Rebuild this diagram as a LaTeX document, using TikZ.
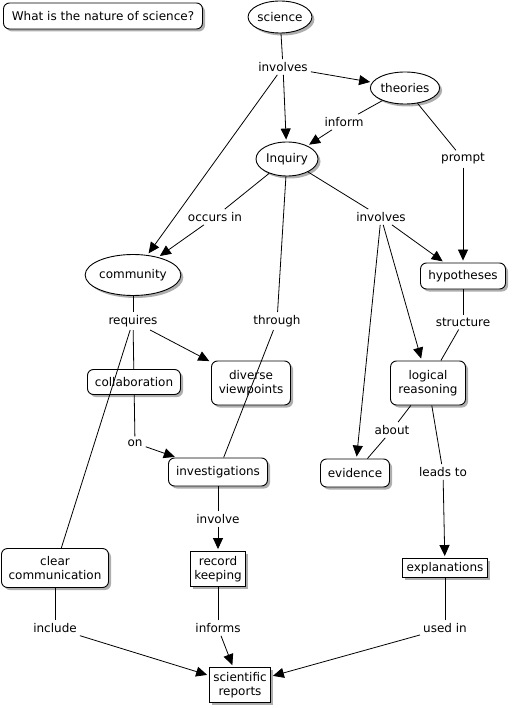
\documentclass[tikz,border=0pt]{standalone}
\usepackage{fontspec}
\setmainfont{DejaVu Sans}
\usetikzlibrary{shapes.geometric,arrows.meta,shadows}
\begin{document}
\begin{tikzpicture}[x=1pt,y=-1pt,
 font=\fontsize{12}{14.5}\selectfont,
 shad/.style={drop shadow={shadow xshift=2.5pt,shadow yshift=-2.5pt,fill=black!45,opacity=0.7}},
 conc/.style={draw=black,fill=white,line width=0.9pt,rounded corners=6pt,inner sep=0pt,align=center,shad},
 oval/.style={ellipse,draw=black,fill=white,line width=0.9pt,inner sep=0pt,shad},
 sq/.style={draw=black,fill=white,line width=0.9pt,inner sep=0pt,align=center,shad},
 lab/.style={inner sep=3pt},
 ln/.style={line width=0.8pt},
 ar/.style={line width=0.8pt,-{Triangle[length=11pt,width=10pt]},shorten >=2pt}]
\useasboundingbox (0,0) rectangle (511,708);

% concepts
\node[conc,minimum width=199pt,minimum height=26pt] (title) at (103,16) {What is the nature of science?};
\node[oval,minimum width=61pt,minimum height=32pt] (science) at (280,17) {science};
\node[oval,minimum width=65pt,minimum height=32pt] (theories) at (405,88) {theories};
\node[oval,minimum width=62pt,minimum height=34pt] (inquiry) at (287,159) {Inquiry};
\node[oval,minimum width=85pt,minimum height=41pt] (community) at (133,275) {community};
\node[conc,minimum width=85pt,minimum height=26pt] (hyp) at (463,276) {hypotheses};
\node[conc,minimum width=93pt,minimum height=25pt] (collab) at (134,382) {collaboration};
\node[conc,minimum width=79pt,minimum height=44pt] (diverse) at (251,383) {diverse\\viewpoints};
\node[conc,minimum width=75pt,minimum height=44pt] (logic) at (428,383) {logical\\reasoning};
\node[conc,minimum width=99pt,minimum height=28pt] (invest) at (218,472) {investigations};
\node[conc,minimum width=69pt,minimum height=28pt] (evidence) at (355,473) {evidence};
\node[conc,minimum width=107pt,minimum height=39pt] (clear) at (55,568) {clear\\communication};
\node[sq,minimum width=55pt,minimum height=35pt] (record) at (218,569) {record\\keeping};
\node[sq,minimum width=85pt,minimum height=19pt] (expl) at (445,568) {explanations};
\node[sq,minimum width=61pt,minimum height=35pt] (reports) at (240,685) {scientific\\reports};

% linking phrases
\node[lab] (l1) at (283,67) {involves};
\node[lab] (l2) at (344,122) {inform};
\node[lab] (l3) at (463,159) {prompt};
\node[lab] (l4) at (215,217) {occurs in};
\node[lab] (l5) at (381,217) {involves};
\node[lab] (l6) at (133,321) {requires};
\node[lab] (l7) at (277,321) {through};
\node[lab] (l8) at (463,322) {structure};
\node[lab] (l9) at (392,430) {about};
\node[lab] (l10) at (135,443) {on};
\node[lab] (l11) at (443,472) {leads to};
\node[lab] (l12) at (218,519) {involve};
\node[lab] (l13) at (55,628) {include};
\node[lab] (l14) at (218,628) {informs};
\node[lab] (l15) at (445,628) {used in};

% connectors
\draw[ln] (science) -- (l1);
\draw[ar] (l1) -- (theories);
\draw[ar] (l1) -- (inquiry);
\draw[ar] (l1) -- (community);
\draw[ln] (theories) -- (l2);
\draw[ar] (l2) -- (inquiry);
\draw[ln] (theories) -- (l3);
\draw[ar] (l3) -- (hyp);
\draw[ln] (inquiry) -- (l4);
\draw[ar] (l4) -- (community);
\draw[ln] (inquiry) -- (l7);
\draw[ln] (l7) -- (invest);
\draw[ln] (inquiry) -- (l5);
\draw[ar] (l5) -- (hyp);
\draw[ar] (l5) -- (logic);
\draw[ar] (l5) -- (evidence);
\draw[ln] (community) -- (l6);
\draw[ar] (l6) -- (diverse);
\draw[ln] (l6) -- (collab);
\draw[ln] (l6) -- (clear);
\draw[ln] (collab) -- (l10);
\draw[ar] (l10) -- (invest);
\draw[ln] (hyp) -- (l8);
\draw[ln] (l8) -- (logic);
\draw[ln] (logic) -- (l9);
\draw[ln] (l9) -- (evidence);
\draw[ln] (logic) -- (l11);
\draw[ar] (l11) -- (expl);
\draw[ln] (invest) -- (l12);
\draw[ar] (l12) -- (record);
\draw[ln] (clear) -- (l13);
\draw[ar] (l13) -- (reports);
\draw[ln] (record) -- (l14);
\draw[ar] (l14) -- (reports);
\draw[ln] (expl) -- (l15);
\draw[ar] (l15) -- (reports);
\end{tikzpicture}
\end{document}
